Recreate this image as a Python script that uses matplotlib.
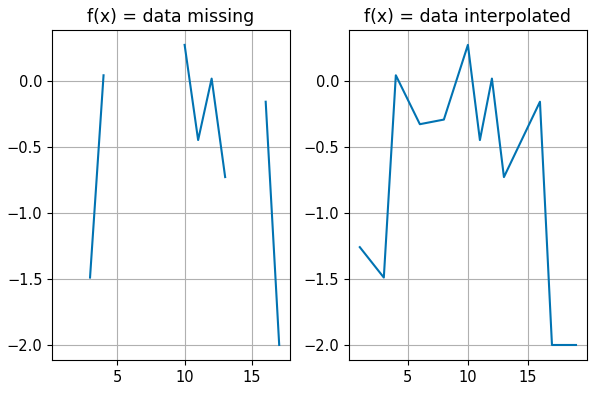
import numpy as np
import pandas as pd
import matplotlib.pyplot as plt

x = np.arange(1, 20)
y = [-1.26, np.nan, -1.49, 0.04, np.nan, -0.33, np.nan, -0.295, np.nan, 0.27,
     -0.45, 0.015, -0.73, np.nan, np.nan, -0.16, -2.0, np.nan, np.nan]

data = pd.Series(y, index=x)
data_interp = data.interpolate()

color = '#0173b2'

fig, (ax1, ax2) = plt.subplots(1, 2, figsize=(6, 3.93), dpi=100)
fig.subplots_adjust(left=0.087, right=0.978, top=0.924, bottom=0.084, wspace=0.248)

ax1.plot(data.index, data.values, color=color)
ax1.set_title("f(x) = data missing", fontsize=12.5)
ax1.grid(True)

ax2.plot(data_interp.index, data_interp.values, color=color)
ax2.set_title("f(x) = data interpolated", fontsize=12.5)
ax2.grid(True)

for ax in (ax1, ax2):
    ax.tick_params(labelsize=10.5)

plt.savefig("out.png")
